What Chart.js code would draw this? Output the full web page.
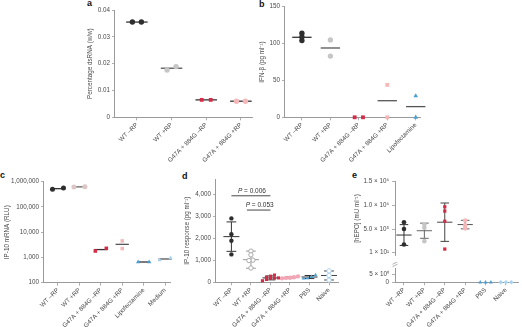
<!DOCTYPE html>
<html>
<head>
<meta charset="utf-8">
<script src="https://cdn.jsdelivr.net/npm/chart.js@4.4.1/dist/chart.umd.min.js"></script>
<style>
  body { margin: 0; background: #fff; width: 522px; height: 327px; position: relative; overflow: hidden;
         font-family: 'Liberation Sans', Arial, sans-serif; }
  canvas { position: absolute; }
  .tag { position: absolute; font-weight: bold; font-size: 9px; line-height: 9px; color: #111; }
</style>
</head>
<body>
<div class="tag" style="left:87px;top:-1px">a</div>
<div class="tag" style="left:259px;top:-0.5px">b</div>
<div class="tag" style="left:0px;top:171px">c</div>
<div class="tag" style="left:182px;top:172px">d</div>
<div class="tag" style="left:352px;top:171px">e</div>

<canvas id="ca" width="180" height="165" style="left:80px;top:0px"></canvas>
<canvas id="cb" width="180" height="165" style="left:250px;top:0px"></canvas>
<canvas id="cc" width="180" height="162" style="left:0px;top:165px"></canvas>
<canvas id="cd" width="175" height="162" style="left:175px;top:165px"></canvas>
<canvas id="ceTop" width="172" height="97" style="left:350px;top:165px"></canvas>
<canvas id="ceBot" width="172" height="65" style="left:350px;top:262px"></canvas>

<script>
// ---- data ----
const DARK = '#2e2e2e', GREY = '#c6c6c6', RED = '#d52b47', PINK = '#f5b7b7',
      BLUE = '#4b9fd5', LBLUE = '#a9d3f0', AX = '#9a9a9a';

// a: percentage dsRNA
const catsA = ['WT –RP', 'WT +RP', 'G47A + 884G –RP', 'G47A + 884G +RP'];
const valsA = [[0.0355, 0.0355], [0.0176, 0.0189], [0.0065, 0.0065], [0.006, 0.006]];
const meanA = [0.0355, 0.0183, 0.0065, 0.006];
const ticksA = [0, 0.01, 0.02, 0.03, 0.04];
const labelsA = ['0', '0.01', '0.02', '0.03', '0.04'];

// b: IFN-beta
const catsB = ['WT –RP', 'WT +RP', 'G47A + 884G –RP', 'G47A + 884G +RP', 'Lipofectamine'];
const valsB = [[114, 109, 104], [105, 83], [0, 0], [44, 0], [29, 0]];
const meanB = [108.5, 94, null, 22.5, 14.5];
const ticksB = [0, 50, 100, 150];
const labelsB = ['0', '50', '100', '150'];

// c: IP-10 mRNA (log)
const catsC = ['WT –RP', 'WT +RP', 'G47A + 884G –RP', 'G47A + 884G +RP', 'Lipofectamine', 'Medium'];
const valsC = [[500000, 560000], [620000, 630000], [1800, 2300], [4500, 2250], [660, 660], [800, 950]];
const meanC = [530000, 625000, 2050, 3300, 660, 870];
const ticksC = [100, 1000, 10000, 100000, 1000000];
const labelsC = ['100', '1,000', '10,000', '100,000', '1,000,000'];

// d: IP-10 response
const catsD = ['WT –RP', 'WT +RP', 'G47A + 884G –RP', 'G47A + 884G +RP', 'PBS', 'Naive'];
const valsD = [[2910, 2190, 1890, 1270], [1420, 1250, 1010, 990, 650],
               [330, 280, 230, 200, 190, 180, 130, 70], [270, 230, 210, 200, 180],
               [330, 250, 190, 180], [520, 310, 100]];
const meanD = [2080, 1030, 200, 215, 240, 310];
const sdD = [670, 390, 90, 40, 70, 205];
const ticksD = [0, 1000, 2000, 3000, 4000];
const labelsD = ['0', '1,000', '2,000', '3,000', '4,000'];
const bracketsD = [
  { from: 0, to: 2, y: 3940, p: '0.006' },
  { from: 1, to: 2, y: 3290, p: '0.053' },
];

// e: hEPO (broken axis)
const catsE = ['WT –RP', 'WT +RP', 'G47A + 884G –RP', 'G47A + 884G +RP', 'PBS', 'Naive'];
const valsE = [[645000, 500000, 175000], [600000, 530000, 245000], [970000, 880000, 665000, 78000],
               [680000, 580000, 515000], [0, 0, 0], [0, 0, 0]];
const meanE = [374000, 465000, 645000, 595000, null, null];
const sdE = [220000, 160000, 405000, 90000, 0, 0];
const ticksEtop = [10, 500000, 1000000, 1500000];
const labelsEtop = ['1 × 10¹', '5.0 × 10⁵', '1.0 × 10⁶', '1.5 × 10⁶'];
const ticksEbot = [0, 5];
const labelsEbot = ['0', '5 × 10⁰'];

// ---- defaults ----
Chart.defaults.font.family = "'Liberation Sans', Arial, sans-serif";
Chart.defaults.font.size = 6.3;
Chart.defaults.color = '#4a4a4a';
Chart.defaults.animation = false;
Chart.defaults.plugins.legend.display = false;
Chart.defaults.plugins.tooltip.enabled = false;

// spread points that sit on top of each other side by side (pixel space)
function jitter(gap, near) {
  return {
    id: 'jitter',
    afterDatasetsUpdate(chart) {
      chart.data.datasets.forEach((ds, i) => {
        const pts = chart.getDatasetMeta(i).data;
        const order = pts.map((p, k) => k).sort((a, b) => pts[b].y - pts[a].y);
        let run = [];
        const flush = () => {
          run.forEach((k, j) => { pts[k].x += (j - (run.length - 1) / 2) * gap; });
          run = [];
        };
        order.forEach(k => {
          if (run.length && Math.abs(pts[k].y - pts[run[0]].y) >= near) flush();
          run.push(k);
        });
        flush();
      });
    }
  };
}

// mean line + optional SD bars
function stats(cfg) {
  return {
    id: 'stats',
    beforeDatasetsDraw(chart) {
      const { ctx, scales: { x, y } } = chart;
      const unit = x.getPixelForValue(1) - x.getPixelForValue(0);
      ctx.save();
      ctx.lineWidth = cfg.lw;
      cfg.means.forEach((m, g) => {
        if (m == null) return;
        const cx = x.getPixelForValue(g);
        const py = y.getPixelForValue(m);
        ctx.strokeStyle = cfg.lineCols[g];
        ctx.beginPath();
        ctx.moveTo(cx - unit * cfg.meanW / 2, py);
        ctx.lineTo(cx + unit * cfg.meanW / 2, py);
        if (cfg.sds && cfg.sds[g]) {
          const t = y.getPixelForValue(m + cfg.sds[g]);
          const b = y.getPixelForValue(m - cfg.sds[g]);
          const cw = unit * cfg.capW / 2;
          ctx.moveTo(cx, t); ctx.lineTo(cx, b);
          ctx.moveTo(cx - cw, t); ctx.lineTo(cx + cw, t);
          ctx.moveTo(cx - cw, b); ctx.lineTo(cx + cw, b);
        }
        ctx.stroke();
      });
      ctx.restore();
    }
  };
}

function panel(id, cfg) {
  const keep = cfg.keep || (() => true);
  const datasets = cfg.vals.map((vs, g) => ({
    data: vs.filter(keep).map(v => ({ x: g, y: v })),
    pointStyle: cfg.shapes[g],
    pointRadius: cfg.radius,
    backgroundColor: cfg.fills ? cfg.fills[g] : cfg.colors[g],
    borderColor: cfg.colors[g],
    borderWidth: cfg.borders ? cfg.borders[g] : 0,
    clip: false,
  }));
  const plugins = [jitter(cfg.gap, cfg.near)];
  if (cfg.stats) plugins.push(stats(cfg.stats));
  if (cfg.extra) plugins.push(cfg.extra);
  return new Chart(document.getElementById(id), {
    type: 'scatter',
    data: { datasets },
    options: {
      responsive: false,
      layout: { padding: cfg.pad },
      events: [],
      scales: {
        x: {
          type: 'linear', min: cfg.xMin, max: cfg.xMax, display: cfg.showX !== false,
          afterBuildTicks: s => { s.ticks = cfg.cats.map((c, i) => ({ value: i })); },
          afterFit: s => { s.height = cfg.xH; },
          ticks: { autoSkip: false, minRotation: 45, maxRotation: 45, padding: 1,
                   callback: v => cfg.cats[v] },
          grid: { drawOnChartArea: false, tickLength: 3, color: AX, lineWidth: 0.8 },
          border: { color: AX, width: 1 },
        },
        y: {
          type: cfg.log ? 'logarithmic' : 'linear', min: cfg.yMin, max: cfg.yMax,
          afterBuildTicks: s => { s.ticks = cfg.yTicks.map(v => ({ value: v })); },
          afterFit: s => { s.width = cfg.yW; },
          ticks: { padding: cfg.tickPad || 2, callback: (v, i) => cfg.yLabels[i] },
          title: { display: !!cfg.title, text: cfg.title || '',
                   padding: { top: cfg.titlePad || 0, bottom: 0 } },
          grid: { drawOnChartArea: false, tickLength: cfg.tickLen || 2, color: AX, lineWidth: 0.8 },
          border: { color: AX, width: 1 },
        },
      },
    },
    plugins,
  });
}

// a
panel('ca', {
  cats: catsA, vals: valsA, xMin: -0.66, xMax: 3.32, yMin: 0, yMax: 0.04,
  yTicks: ticksA, yLabels: labelsA, title: 'Percentage dsRNA (w/w)', titlePad: 6,
  pad: { top: 10, right: 8, left: 0, bottom: 0 }, yW: 34, xH: 47.7,
  colors: [DARK, GREY, RED, PINK], shapes: ['circle', 'circle', 'rect', 'circle'],
  radius: 2.7, gap: 9, near: 3.5,
  stats: { means: meanA, lineCols: ['#333', '#555', '#333', '#333'], meanW: 0.62, lw: 1.3 },
});

// b
panel('cb', {
  cats: catsB, vals: valsB, xMin: -0.63, xMax: 4.15, yMin: 0, yMax: 150,
  yTicks: ticksB, yLabels: labelsB, title: 'IFN-β (pg ml⁻¹)', titlePad: 8,
  pad: { top: 6.7, right: 10, left: 0, bottom: 0 }, yW: 34, xH: 47.7,
  colors: [DARK, GREY, RED, PINK, BLUE], shapes: ['circle', 'circle', 'rect', 'rect', 'triangle'],
  radius: 2.7, gap: 8.3, near: 3,
  stats: { means: meanB, lineCols: ['#333', '#555', '#555', '#555', '#555'], meanW: 0.68, lw: 1.3 },
});

// c
panel('cc', {
  cats: catsC, vals: valsC, xMin: -0.7, xMax: 5.23, yMin: 100, yMax: 1000000, log: true,
  yTicks: ticksC, yLabels: labelsC, title: 'IP-10 mRNA (RLU)', titlePad: 3.5,
  pad: { top: 16.7, right: 10, left: 0, bottom: 0 }, yW: 43, xH: 44.3,
  colors: [DARK, '#dcc6c6', RED, PINK, BLUE, LBLUE],
  shapes: ['circle', 'circle', 'rect', 'rect', 'triangle', 'triangle'],
  radius: 2.5, gap: 11, near: 3.5,
  stats: { means: meanC, lineCols: ['#333', '#666', '#333', '#555', '#333', '#555'], meanW: 0.62, lw: 1.3 },
});

// d
const bracketPlugin = {
  id: 'brackets',
  afterDatasetsDraw(chart) {
    const { ctx, scales: { x, y } } = chart;
    ctx.save();
    bracketsD.forEach(b => {
      const x1 = x.getPixelForValue(b.from) - (b.from === 1 ? 4 : 0);
      const x2 = x.getPixelForValue(b.to);
      const py = y.getPixelForValue(b.y);
      ctx.strokeStyle = '#333';
      ctx.lineWidth = 0.9;
      ctx.beginPath(); ctx.moveTo(x1, py); ctx.lineTo(x2, py); ctx.stroke();
      const fs = 6.5, fam = "'Liberation Sans', Arial, sans-serif";
      ctx.font = `italic ${fs}px ${fam}`;
      const wP = ctx.measureText('P').width;
      ctx.font = `${fs}px ${fam}`;
      const rest = ' = ' + b.p;
      const wR = ctx.measureText(rest).width;
      const sx = (x1 + x2) / 2 - (wP + wR) / 2 + 1;
      ctx.fillStyle = '#333';
      ctx.textBaseline = 'alphabetic';
      ctx.textAlign = 'left';
      ctx.font = `italic ${fs}px ${fam}`;
      ctx.fillText('P', sx, py - 3);
      ctx.font = `${fs}px ${fam}`;
      ctx.fillText(rest, sx + wP, py - 3);
    });
    ctx.restore();
  }
};
panel('cd', {
  cats: catsD, vals: valsD, xMin: -0.84, xMax: 5.46, yMin: 0, yMax: 4700,
  yTicks: ticksD, yLabels: labelsD, title: 'IP-10 response (pg ml⁻¹)', titlePad: 8.5,
  pad: { top: 14.1, right: 12, left: 0, bottom: 0 }, yW: 40, xH: 44.7,
  colors: [DARK, '#aaaaaa', RED, '#f3a6b6', BLUE, LBLUE],
  fills: [DARK, '#ffffff', RED, '#f3a6b6', BLUE, '#ffffff'],
  borders: [0, 1, 0, 0, 0, 1],
  shapes: ['circle', 'circle', 'rect', 'circle', 'triangle', 'circle'],
  radius: 2.2, gap: 4, near: 3.5,
  stats: { means: meanD, sds: sdD, lineCols: ['#333', '#999', '#333', '#777', '#333', '#444'],
           meanW: 0.82, capW: 0.5, lw: 1 },
  extra: bracketPlugin,
});

// e (two stacked charts for the broken axis)
const colorsE = [DARK, GREY, RED, PINK, BLUE, LBLUE];
const shapesE = ['circle', 'circle', 'rect', 'circle', 'triangle', 'rectRot'];
panel('ceTop', {
  cats: catsE, vals: valsE, keep: v => v >= 10, showX: false,
  xMin: -0.44, xMax: 5.59, yMin: -52000, yMax: 1500000,
  yTicks: ticksEtop, yLabels: labelsEtop, title: '[hEPO] (mU ml⁻¹)', titlePad: 3,
  pad: { top: 16.7, right: 4, left: 0, bottom: 0 }, yW: 45, xH: 0, tickPad: 3, tickLen: 3,
  colors: colorsE, shapes: shapesE, radius: 2.3, gap: 5.3, near: 3,
  stats: { means: meanE, sds: sdE, lineCols: ['#333', '#666', '#444', '#555', '#444', '#444'],
           meanW: 0.75, capW: 0.42, lw: 1 },
});
const breakPlugin = {
  id: 'axisBreak',
  afterDraw(chart) {
    const { ctx, chartArea: { left } } = chart;
    ctx.save();
    ctx.strokeStyle = AX;
    ctx.lineWidth = 0.8;
    [0.8, 3.2].forEach(dy => {
      ctx.beginPath();
      ctx.moveTo(left - 2.5, dy + 1.5);
      ctx.lineTo(left + 2.5, dy - 1.0);
      ctx.stroke();
    });
    ctx.restore();
  }
};
panel('ceBot', {
  cats: catsE, vals: valsE, keep: v => v < 10,
  xMin: -0.44, xMax: 5.59, yMin: 0, yMax: 8.7,
  yTicks: ticksEbot, yLabels: labelsEbot,
  pad: { top: 4.7, right: 4, left: 0, bottom: 0 }, yW: 45, xH: 44.7, tickPad: 3, tickLen: 3,
  colors: colorsE, shapes: shapesE, radius: 2.3, gap: 5.3, near: 3,
  extra: breakPlugin,
});
</script>
</body>
</html>
